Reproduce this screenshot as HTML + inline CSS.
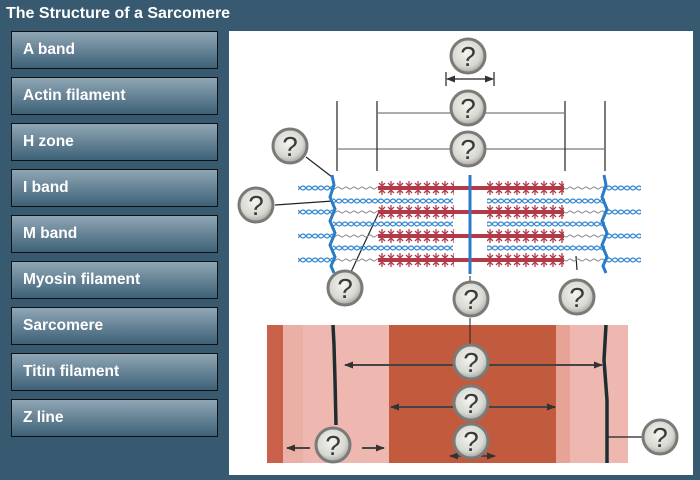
<!DOCTYPE html>
<html><head><meta charset="utf-8"><style>
body{margin:0;width:700px;height:480px;background:#375a70;overflow:hidden;font-family:"Liberation Sans",sans-serif;position:relative}
.t{position:absolute;left:6px;top:5px;color:#fff;font-weight:bold;font-size:16px}
.b{position:absolute;left:11px;width:205px;height:36px;border:1px solid #111;background:linear-gradient(#8fa6b4,#3d6177);color:#fff;font-weight:bold;font-size:15.5px;line-height:36px;box-sizing:content-box;text-indent:11px}
svg{position:absolute;left:0;top:0}
</style></head><body>
<div class="t">The Structure of a Sarcomere</div>
<div class="b" style="top:31px">A band</div>
<div class="b" style="top:77px">Actin filament</div>
<div class="b" style="top:123px">H zone</div>
<div class="b" style="top:169px">I band</div>
<div class="b" style="top:215px">M band</div>
<div class="b" style="top:261px">Myosin filament</div>
<div class="b" style="top:307px">Sarcomere</div>
<div class="b" style="top:353px">Titin filament</div>
<div class="b" style="top:399px">Z line</div>
<svg width="700" height="480">
<defs>
<radialGradient id="q" cx="45%" cy="40%" r="60%"><stop offset="0" stop-color="#f4f4f0"/><stop offset="0.7" stop-color="#d8d8d2"/><stop offset="1" stop-color="#a5a5a0"/></radialGradient>
<pattern id="heads" width="9" height="16" patternUnits="userSpaceOnUse" x="378" y="-8">
<g stroke="#b23a48" stroke-width="1.3" fill="none"><line x1="4" y1="1" x2="4" y2="15"/><line x1="1" y1="3" x2="4" y2="6"/><line x1="7" y1="3" x2="4" y2="6"/><line x1="1" y1="13" x2="4" y2="10"/><line x1="7" y1="13" x2="4" y2="10"/></g></pattern>
<pattern id="helix" width="12" height="8" patternUnits="userSpaceOnUse">
<path d="M0 4 Q3 0 6 4 T12 4 M0 4 Q3 8 6 4 T12 4" stroke="#3a8ad0" stroke-width="1.2" fill="none"/></pattern>
<pattern id="helix2" width="12" height="8" patternUnits="userSpaceOnUse" y="-4">
<path d="M0 4 Q3 0 6 4 T12 4 M0 4 Q3 8 6 4 T12 4" stroke="#3a8ad0" stroke-width="1.2" fill="none"/></pattern>
<pattern id="titin" width="8" height="6" patternUnits="userSpaceOnUse" y="-3">
<path d="M0 3 Q2 1 4 3 T8 3" stroke="#888" stroke-width="1" fill="none"/></pattern>
<marker id="a" markerUnits="userSpaceOnUse" markerWidth="9" markerHeight="7" refX="8" refY="3.5" orient="auto"><path d="M0 0L9 3.5L0 7z" fill="#333"/></marker>
<marker id="as" markerUnits="userSpaceOnUse" markerWidth="9" markerHeight="7" refX="1" refY="3.5" orient="auto"><path d="M9 0L0 3.5L9 7z" fill="#333"/></marker>
<g id="act"><rect x="333" y="0" width="120" height="8" fill="url(#helix)"/><rect x="487" y="0" width="118" height="8" fill="url(#helix)"/></g>
<g id="myo">
<rect x="298" y="-4" width="35" height="8" fill="url(#helix2)"/><rect x="605" y="-4" width="36" height="8" fill="url(#helix2)"/>
<rect x="333" y="-3" width="45" height="6" fill="url(#titin)"/><rect x="563" y="-3" width="42" height="6" fill="url(#titin)"/>
<rect x="378" y="-2" width="186" height="4" fill="#b23a48"/>
<rect x="378" y="-8" width="76" height="16" fill="url(#heads)"/><rect x="487" y="-8" width="77" height="16" fill="url(#heads)"/>
</g>
</defs>
<rect x="229" y="31" width="464" height="444" fill="#fff"/>
<g stroke="#222" stroke-width="1.2">
<line x1="446" y1="72" x2="446" y2="86"/><line x1="494" y1="72" x2="494" y2="86"/>
<line x1="447" y1="79" x2="493" y2="79" marker-end="url(#a)" marker-start="url(#as)"/>
<line x1="337" y1="101" x2="337" y2="171"/><line x1="377" y1="101" x2="377" y2="171"/>
<line x1="565" y1="101" x2="565" y2="171"/><line x1="605" y1="101" x2="605" y2="171"/>
<line x1="378" y1="113" x2="564" y2="113" stroke-width="0.8"/>
<line x1="338" y1="149" x2="604" y2="149" stroke-width="0.8"/>
<line x1="306" y1="157" x2="332" y2="177"/>
<line x1="275" y1="205" x2="333" y2="201"/>
<line x1="351" y1="272" x2="379" y2="212"/>
<line x1="577" y1="270" x2="576" y2="256"/>
</g>
<use href="#act" y="197"/><use href="#act" y="220"/><use href="#act" y="244"/>
<use href="#myo" y="188"/><use href="#myo" y="212"/><use href="#myo" y="236"/><use href="#myo" y="260"/>
<line x1="470" y1="175" x2="470" y2="274" stroke="#2b7cc6" stroke-width="3"/>
<polyline points="332,175 334,185 330,197 335,209 330,221 335,233 330,245 335,257 331,266 334,273" stroke="#2b7cc6" stroke-width="3" fill="none"/>
<polyline points="604,175 606,185 602,197 607,209 602,221 607,233 602,245 607,257 603,266 606,273" stroke="#2b7cc6" stroke-width="3" fill="none"/>
<line x1="470" y1="276" x2="470" y2="282" stroke="#222"/>
<rect x="267" y="325" width="361" height="138" fill="#eeb8b0"/>
<rect x="267" y="325" width="16" height="138" fill="#c8604a"/>
<rect x="389" y="325" width="167" height="138" fill="#c25a3e"/>
<rect x="283" y="325" width="20" height="138" fill="#e7a89e" opacity="0.6"/>
<rect x="556" y="325" width="14" height="138" fill="#e39a8c" opacity="0.7"/>
<path d="M333 325 L334 345 L335 380 L336 425" stroke="#1e2e30" stroke-width="3.5" fill="none"/>
<path d="M606 325 L604 360 L607 400 L607 463" stroke="#1e2e30" stroke-width="3.5" fill="none"/>
<line x1="470" y1="318" x2="470" y2="345" stroke="#222"/>
<g stroke="#444" stroke-width="2">
<line x1="345" y1="365" x2="602" y2="365" marker-end="url(#a)" marker-start="url(#as)"/>
<line x1="391" y1="407" x2="555" y2="407" marker-end="url(#a)" marker-start="url(#as)"/>
<line x1="287" y1="448" x2="310" y2="448" marker-start="url(#as)"/>
<line x1="362" y1="448" x2="384" y2="448" marker-end="url(#a)"/>
<line x1="450" y1="456" x2="495" y2="456" marker-end="url(#a)" marker-start="url(#as)"/>
<line x1="608" y1="437" x2="642" y2="437" stroke="#222" stroke-width="1.2"/>
</g>
<g stroke="#7a7a78" stroke-width="3">
<circle cx="468" cy="56" r="17" fill="url(#q)"/><circle cx="468" cy="108" r="17" fill="url(#q)"/><circle cx="468" cy="149" r="17" fill="url(#q)"/>
<circle cx="290" cy="146" r="17" fill="url(#q)"/><circle cx="256" cy="205" r="17" fill="url(#q)"/><circle cx="345" cy="288" r="17" fill="url(#q)"/>
<circle cx="471" cy="299" r="17" fill="url(#q)"/><circle cx="577" cy="297" r="17" fill="url(#q)"/>
<circle cx="471" cy="362" r="17" fill="url(#q)"/><circle cx="471" cy="403" r="17" fill="url(#q)"/><circle cx="471" cy="441" r="17" fill="url(#q)"/>
<circle cx="333" cy="445" r="17" fill="url(#q)"/><circle cx="660" cy="437" r="17" fill="url(#q)"/>
</g>
<g font-family="Liberation Sans,sans-serif" font-size="28" fill="#3a3a3a" text-anchor="middle">
<text x="468" y="66">?</text><text x="468" y="118">?</text><text x="468" y="159">?</text>
<text x="290" y="156">?</text><text x="256" y="215">?</text><text x="345" y="298">?</text>
<text x="471" y="309">?</text><text x="577" y="307">?</text>
<text x="471" y="372">?</text><text x="471" y="413">?</text><text x="471" y="451">?</text>
<text x="333" y="455">?</text><text x="660" y="447">?</text>
</g>
</svg>
</body></html>
